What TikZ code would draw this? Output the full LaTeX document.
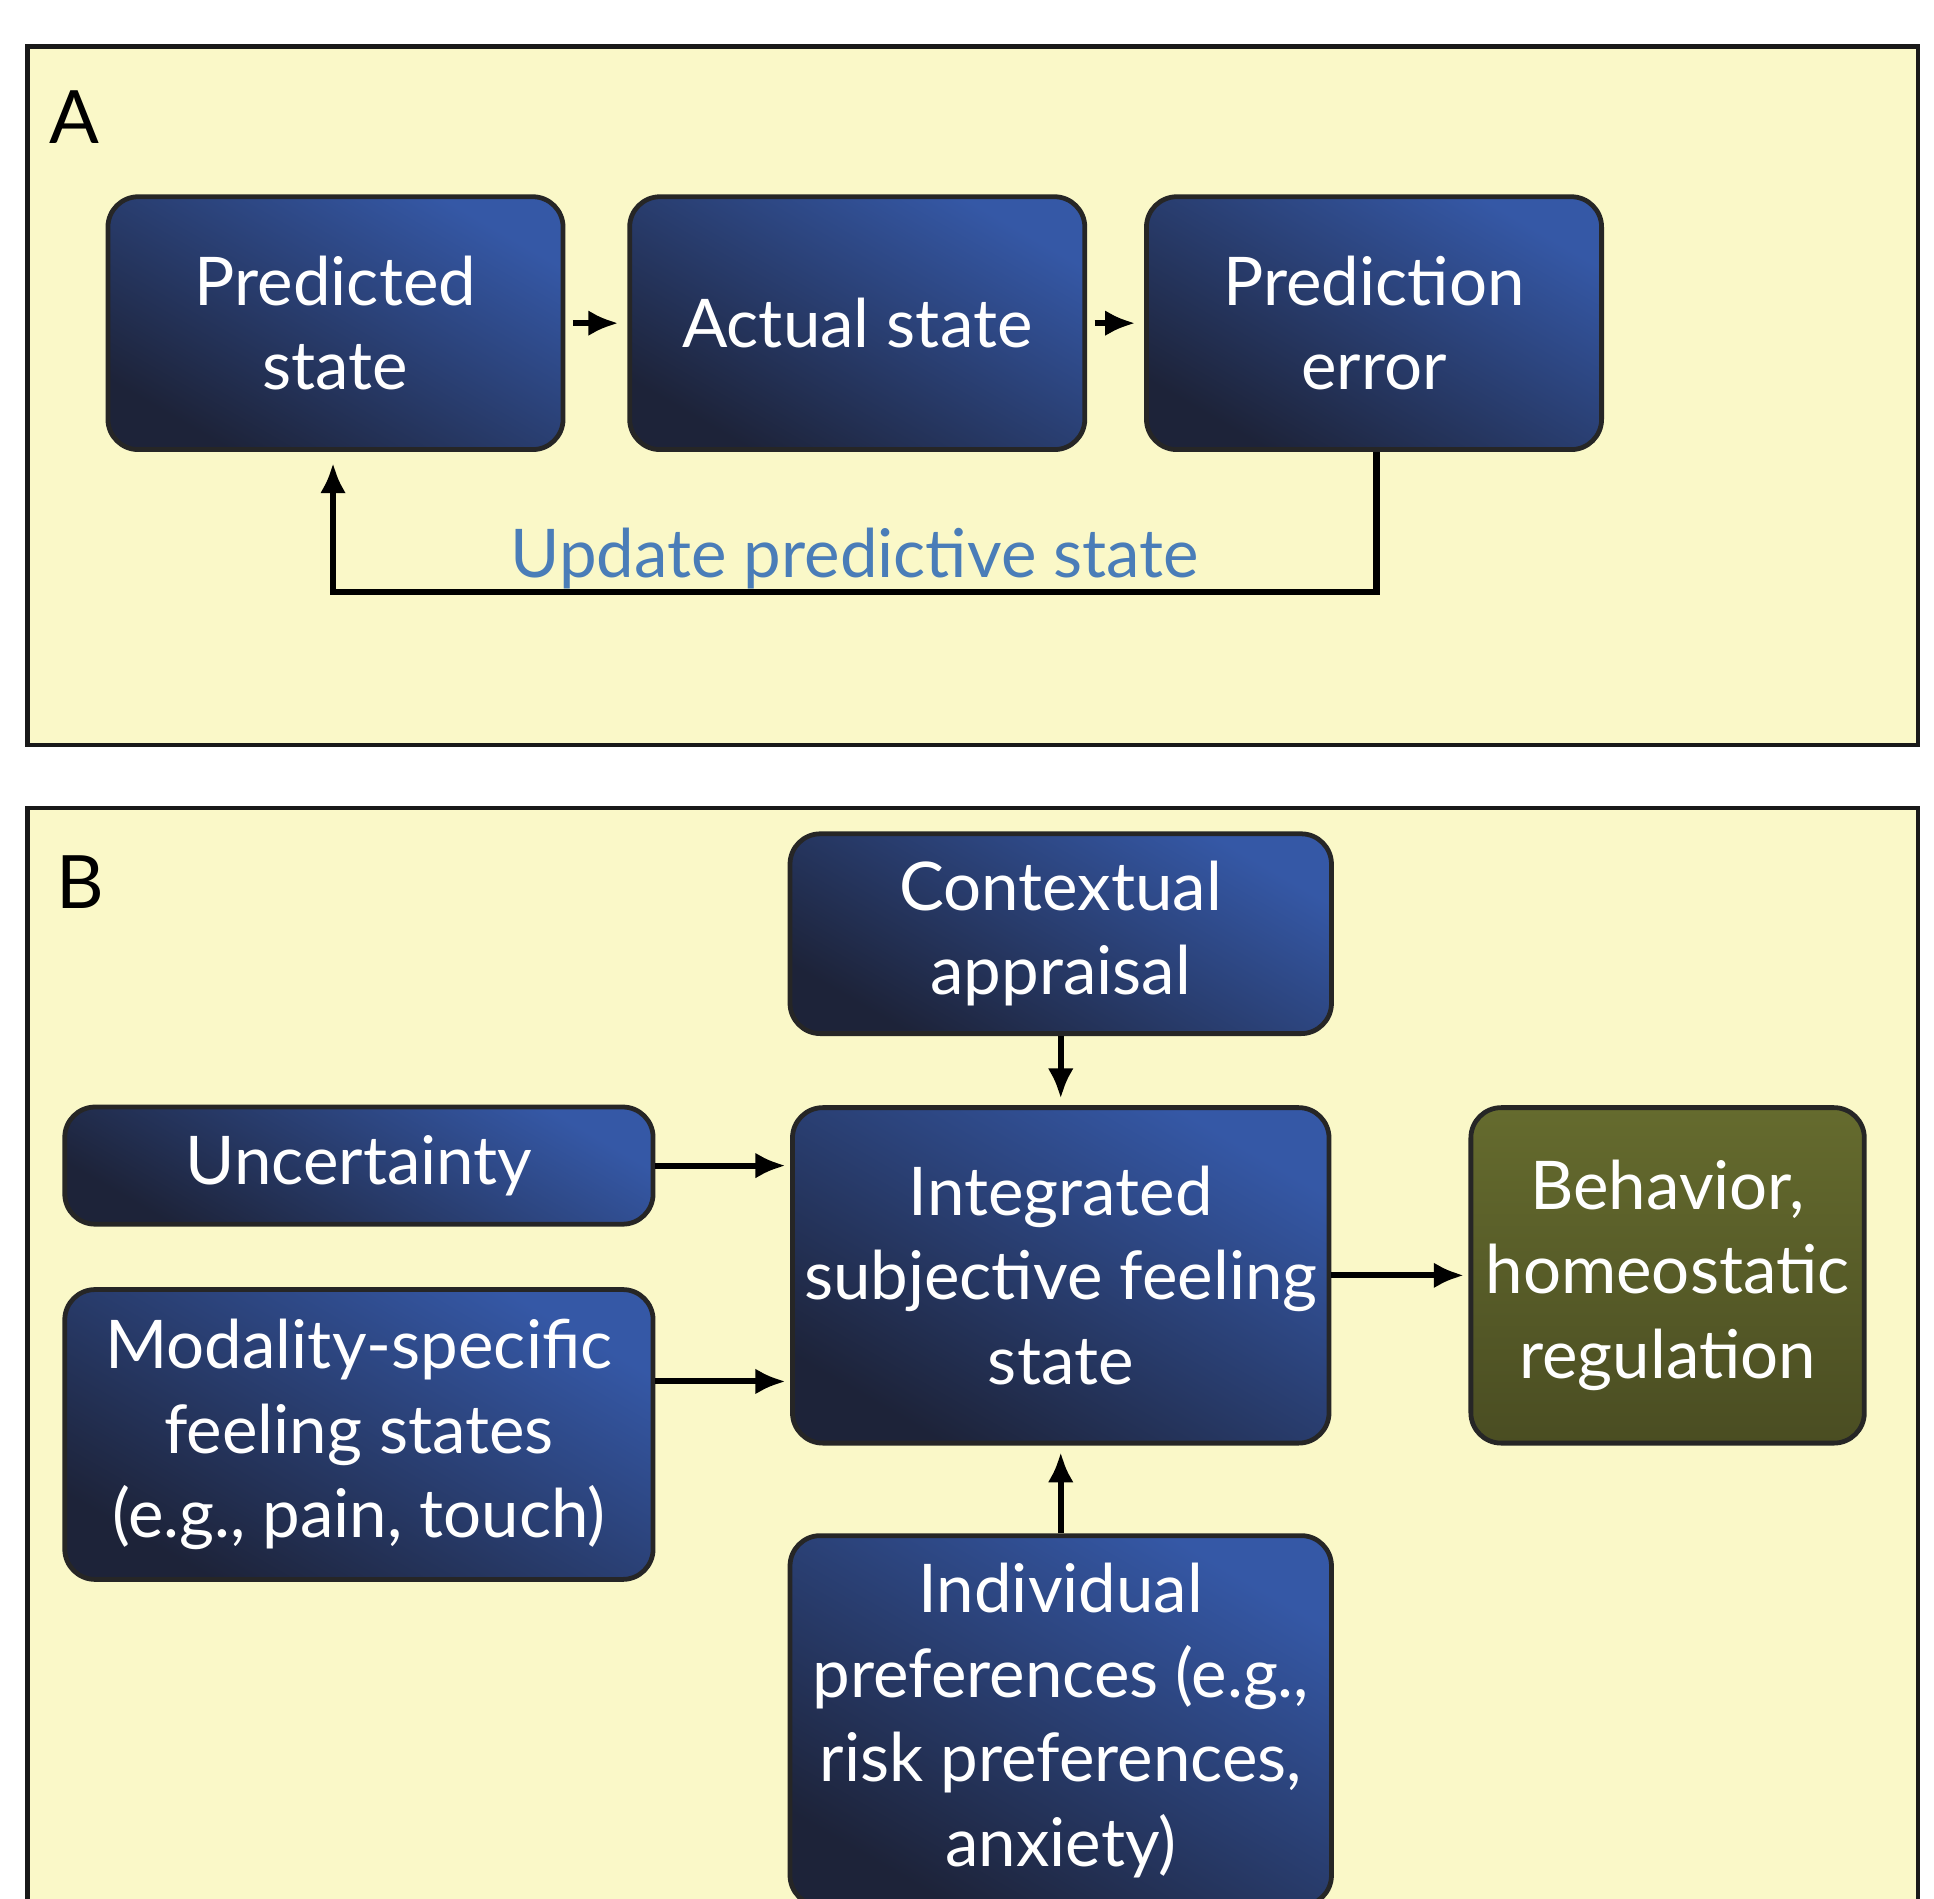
\documentclass[tikz,border=0pt]{standalone}
\usepackage{fontspec}
\setmainfont{Lato}
\usetikzlibrary{arrows.meta}
\definecolor{panel}{HTML}{FAF8C8}
\definecolor{blueL}{HTML}{3558A6}
\definecolor{blueD}{HTML}{1D2339}
\definecolor{oliveL}{HTML}{656B2E}
\definecolor{oliveD}{HTML}{4A4D22}
\definecolor{updblue}{HTML}{4A7DB8}
\tikzset{
  box/.style={draw=black!85, line width=2.2pt, rounded corners=14pt, text=white,
    shading=axis, top color=blueL, bottom color=blueD, shading angle=-30,
    font=\fontsize{31}{39}\selectfont, align=center, inner sep=0pt},
  obox/.style={box, top color=oliveL, bottom color=oliveD},
  pan/.style={draw=black!90, line width=2.2pt, fill=panel},
  arr/.style={-{Latex[length=14pt,width=12pt]}, line width=2.8pt},
}
\begin{document}
\begin{tikzpicture}[x=0.02cm,y=-0.02cm]
\useasboundingbox (0,0) rectangle (1568,1539);
\clip (0,0) rectangle (1568,1539);
\fill[white] (0,0) rectangle (1568,1539);
\draw[pan] (22,38) rectangle (1555,604);
\draw[pan] (22,655) rectangle (1555,1600);
\node[font=\fontsize{34}{40}\selectfont] (la) at (60,95) {A};
\node[font=\fontsize{34}{40}\selectfont] (lb) at (65,715) {B};
% panel A
\node[box, minimum width=369*0.02cm, minimum height=205*0.02cm] (ps) at (272,262) {Predicted\\state};
\node[box, minimum width=369*0.02cm, minimum height=205*0.02cm] (as) at (695,262) {Actual state};
\node[box, minimum width=369*0.02cm, minimum height=205*0.02cm] (pe) at (1114,262) {Prediction\\error};
\draw[arr] (ps.east)++(6,0) -- ([xshift=-4pt]as.west);
\draw[arr] (as.east)++(6,0) -- ([xshift=-4pt]pe.west);
\coordinate (c1) at (1116,480);
\coordinate (c2) at (270,480);
\draw[arr] (pe.south -| c1) -- (c1) -- (c2) -- ([yshift=-5pt]ps.south -| c2);
\node[text=updblue, font=\fontsize{31}{39}\selectfont, anchor=base] (ul) at (693,468) {Update predictive state};
% panel B
\node[box, minimum width=439*0.02cm, minimum height=162*0.02cm] (ca) at (860,757) {Contextual\\appraisal};
\node[box, minimum width=435*0.02cm, minimum height=272*0.02cm] (is) at (860,1034) {Integrated\\subjective feeling\\state};
\node[box, minimum width=477*0.02cm, minimum height=95*0.02cm] (un) at (291,945) {Uncertainty};
\node[box, minimum width=477*0.02cm, minimum height=235*0.02cm] (ms) at (291,1163) {Modality-specific\\feeling states\\(e.g., pain, touch)};
\node[box, minimum width=439*0.02cm, minimum height=300*0.02cm] (ip) at (860,1395) {Individual\\preferences (e.g.,\\risk preferences,\\anxiety)};
\node[obox, minimum width=319*0.02cm, minimum height=272*0.02cm] (bh) at (1352,1034) {Behavior,\\homeostatic\\regulation};
\draw[arr] (ca.south) -- ([yshift=3pt]is.north);
\draw[arr] (un.east) -- ([xshift=-2pt]is.west |- un.east);
\draw[arr] (ms.east |- 0,1120) -- ([xshift=-2pt]is.west |- 0,1120);
\draw[arr] (ip.north) -- ([yshift=-3pt]is.south);
\draw[arr] (is.east) -- ([xshift=-2pt]bh.west);
\end{tikzpicture}
\end{document}
